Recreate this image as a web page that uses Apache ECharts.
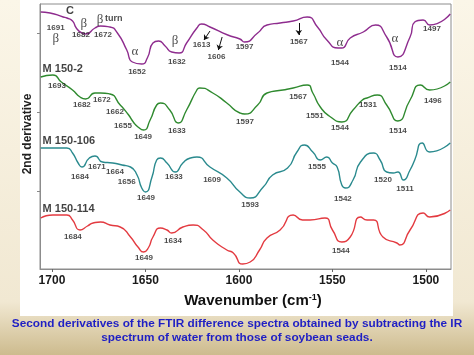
<!DOCTYPE html>
<html><head><meta charset="utf-8">
<script src="https://cdn.jsdelivr.net/npm/echarts@6/dist/echarts.min.js"></script>
<style>html,body{margin:0;padding:0;}#c{width:474px;height:355px;}</style>
</head><body><div id="c"></div>
<script>
// x tick labels (wavenumber, cm-1)
const xTicks = [1500, 1550, 1600, 1650, 1700];
// second-derivative traces: [wavenumber, offset value] (arbitrary units, offset stacked)
const traceC = [[1706,257],[1701,256],[1694,252],[1692,251],[1689,248],[1687,241],[1684,236],[1682,235],[1677,241],[1674,243],[1669,242],[1665,236],[1660,219],[1657,207],[1652,205],[1649,211],[1646,226],[1643,228],[1639.5,223],[1636,217],[1632,216],[1628,226],[1622.5,241],[1620,245],[1615.5,242],[1606,234],[1599.5,230],[1597,227],[1590,236],[1585,244],[1578,246],[1571,248],[1563.5,252],[1558,242],[1553,229],[1547,221],[1545,221],[1540.5,231],[1533.5,237],[1527,244],[1521,232],[1515,212],[1508.5,232],[1506,247],[1501.5,249],[1498,244],[1487,255]];
const trace2 = [[1706,192],[1699.5,194],[1695,187],[1689,179],[1685,172],[1682,170],[1677,176],[1674,176],[1669,175],[1663.5,164],[1662,161],[1659,154],[1656.5,147],[1654,142],[1651,139],[1647.5,149],[1644,164],[1642,166],[1637,159],[1632.5,146],[1628,159],[1622.5,179],[1621,181],[1614,176],[1606.5,166],[1599.5,156],[1597,155],[1590,164],[1585,176],[1576.5,179],[1571,181],[1563.5,184],[1560.5,176],[1556.5,162],[1551,152],[1545,147],[1539,159],[1534,169],[1531.5,171],[1526,174],[1521,164],[1515,148],[1508.5,169],[1503,184],[1498,179],[1487,187]];
const trace106 = [[1706,121],[1692,121],[1689,116],[1686,106],[1684,102],[1680,111],[1677,113],[1673,107],[1667.5,106],[1662.5,104],[1658,102],[1654.5,94],[1652,81],[1650,77],[1646.5,92],[1644,109],[1642,111],[1638.5,106],[1634,97],[1630,106],[1626,111],[1622.5,112],[1615.5,102],[1606.5,91],[1599.5,77],[1594,71],[1587,82],[1582,94],[1574,101],[1569,117],[1565,124],[1560.5,117],[1556.5,109],[1553,112],[1550,106],[1547.5,102],[1545,84],[1543,81],[1539,89],[1535,107],[1528,116],[1524.5,109],[1521,97],[1517.5,96],[1515,97],[1512,89],[1508.5,99],[1506,109],[1502,126],[1498,117],[1487,126]];
const trace114 = [[1706,51],[1699.5,54],[1692,54],[1689,49],[1685,39],[1681,43],[1678,46],[1674,47],[1669,44],[1663.5,42],[1658,32],[1654,22],[1651,17],[1648.5,21],[1646,32],[1642,41],[1638.5,39],[1636,36],[1630,42],[1624.5,44],[1619,39],[1614,29],[1606.5,19],[1603,16],[1598,5],[1594,7],[1589,19],[1585,31],[1578,39],[1571,54],[1566,49],[1562,49],[1554,51],[1550,39],[1545,27],[1540.5,32],[1535,52],[1531.5,49],[1528,49],[1523,32],[1515.5,26],[1514,24],[1508.5,39],[1501.5,56],[1498,52],[1487,59]];
// peak annotations: [text, wavenumber, value]
const peakNotes = [
 ['1691',1698,241],['1682',1684.5,234],['1672',1672.7,234],['1652',1654.5,197],['1632',1633.2,207],['1613',1620,224],['1606',1612,212],['1597',1597,222],['1567',1568,227],['1544',1546,206],['1514',1515,201],['1497',1496.8,240],
 ['1693',1697.3,183],['1682',1684,164],['1672',1673.3,169],['1662',1666.3,157],['1655',1662,143],['1649',1651.3,132],['1633',1633.2,138],['1597',1596.8,147],['1567',1568.4,172],['1551',1559.4,153],['1544',1546,141],['1531',1531,164],['1514',1515,138],['1496',1496.3,168],
 ['1684',1685,92],['1671',1676,102],['1664',1666.3,97],['1656',1660,87],['1649',1649.7,71],['1633',1634.8,92],['1609',1614.4,89],['1593',1594,64],['1555',1558.3,102],['1542',1544.4,70],['1520',1523,89],['1511',1511.2,80],
 ['1684',1688.8,32],['1634',1635.3,28],['1649',1650.8,11],['1544',1545.5,18]
];
// secondary-structure annotations: [text, wavenumber, value]
const structNotes = [['β',1698,230],['β',1683,245],['β',1674.3,249],['α',1655.6,217],['β',1634.2,228],['α',1546,226],['α',1516.6,230]];
const smallNotes = [['turn',1667,250]];
// sample names: [text, wavenumber, value]
const sampleNotes = [['C',1692.5,258],['M 150-2',1705,200],['M 150-106',1705,128],['M 150-114',1705,60]];
// arrows: [from wn, from val, to wn, to val]
const arrows = [[1615.5,238,1618.7,229],[1609,232,1611,219],[1568,246,1568,234]];
const sampleColors = ['#8E2C8E','#2F8A2F','#2A8A8E','#E33A40'];
const yTicks = [78, 157, 236];

const chart = echarts.init(document.getElementById('c'), null, {renderer:'canvas'});
function lineSeries(d, color) {
  return {type:'line', data:d, smooth:0.6, symbol:'none', lineStyle:{color:color, width:1.4}, silent:true};
}
function noteSeries(list, font, extra) {
  return {type:'scatter', symbolSize:0, silent:true, z:5,
    data:list.map(n => ({name:n[0], value:[n[1], n[2]]})),
    label:Object.assign({show:true, position:'inside', formatter:'{b}', color:'#1a1a1a'}, font),
    ...(extra||{})};
}
const arrowSeries = {type:'line', data:[], silent:true,
  markLine:{silent:true, symbol:['none','arrow'], symbolSize:5, label:{show:false},
    lineStyle:{color:'#111', width:1, type:'solid'},
    data:arrows.map(a => [{coord:[a[0],a[1]]},{coord:[a[2],a[3]]}])}};

chart.setOption({
  animation:false,
  backgroundColor:{type:'linear', x:0, y:0, x2:0, y2:1, colorStops:[
    {offset:0, color:'#FBF6E8'},{offset:0.85, color:'#F1E8D2'},{offset:1, color:'#CDBB8E'}]},
  graphic:[
    {type:'rect', shape:{x:20, y:0, width:433, height:316}, style:{fill:'#ffffff'}, z:-10},
    {type:'text', x:28, y:134, rotation:Math.PI/2, style:{text:'2nd derivative', font:'bold 12px "Liberation Sans", Arial, sans-serif', fill:'#222', align:'center', verticalAlign:'middle'}},
    {type:'text', x:253, y:301, style:{text:'Wavenumber (cm{s|-1})', rich:{s:{fontSize:9, fontWeight:'bold', verticalAlign:'top', padding:[0,0,6,0], fontFamily:'"Liberation Sans", Arial, sans-serif', fill:'#111'}}, font:'bold 15px "Liberation Sans", Arial, sans-serif', fill:'#111', align:'center', verticalAlign:'middle'}},
    {type:'text', x:237, y:324, style:{text:'Second derivatives of the FTIR difference spectra obtained by subtracting the IR', font:'bold 11.8px "Liberation Sans", Arial, sans-serif', fill:'#1F1FC4', align:'center', verticalAlign:'middle'}},
    {type:'text', x:237, y:338, style:{text:'spectrum of water from those of soybean seads.', font:'bold 11.8px "Liberation Sans", Arial, sans-serif', fill:'#1F1FC4', align:'center', verticalAlign:'middle'}}
  ],
  grid:{left:40, right:23, top:4, bottom:86, show:true, borderColor:'#8c8c8c', borderWidth:1, backgroundColor:'transparent'},
  xAxis:{type:'value', inverse:true, min:1486.6, max:1706.4,
    axisLine:{show:true, lineStyle:{color:'#8c8c8c'}},
    axisTick:{show:true, customValues:xTicks, length:3, lineStyle:{color:'#666'}},
    axisLabel:{customValues:xTicks, formatter:v => String(Math.round(v)), color:'#1a1a1a', fontSize:12, fontWeight:'bold', fontFamily:'"Liberation Sans", Arial, sans-serif', margin:6},
    splitLine:{show:false}},
  yAxis:{type:'value', min:0, max:265,
    axisLine:{show:true, lineStyle:{color:'#8c8c8c'}},
    axisTick:{show:true, customValues:yTicks, length:3, lineStyle:{color:'#888'}},
    axisLabel:{show:false}, splitLine:{show:false}},
  series:[
    lineSeries(traceC, sampleColors[0]),
    lineSeries(trace2, sampleColors[1]),
    lineSeries(trace106, sampleColors[2]),
    lineSeries(trace114, sampleColors[3]),
    noteSeries(peakNotes, {fontSize:8, fontWeight:'bold', fontFamily:'"Liberation Sans", Arial, sans-serif'}),
    noteSeries(structNotes, {fontSize:13, fontFamily:'"Liberation Serif", "DejaVu Serif", serif', color:'#222'}),
    noteSeries(smallNotes, {fontSize:9, fontWeight:'bold', fontFamily:'"Liberation Sans", Arial, sans-serif'}),
    noteSeries(sampleNotes, {fontSize:11, fontWeight:'bold', fontFamily:'"Liberation Sans", Arial, sans-serif', position:'right', distance:0, color:'#111'}),
    arrowSeries
  ]
});
</script></body></html>
